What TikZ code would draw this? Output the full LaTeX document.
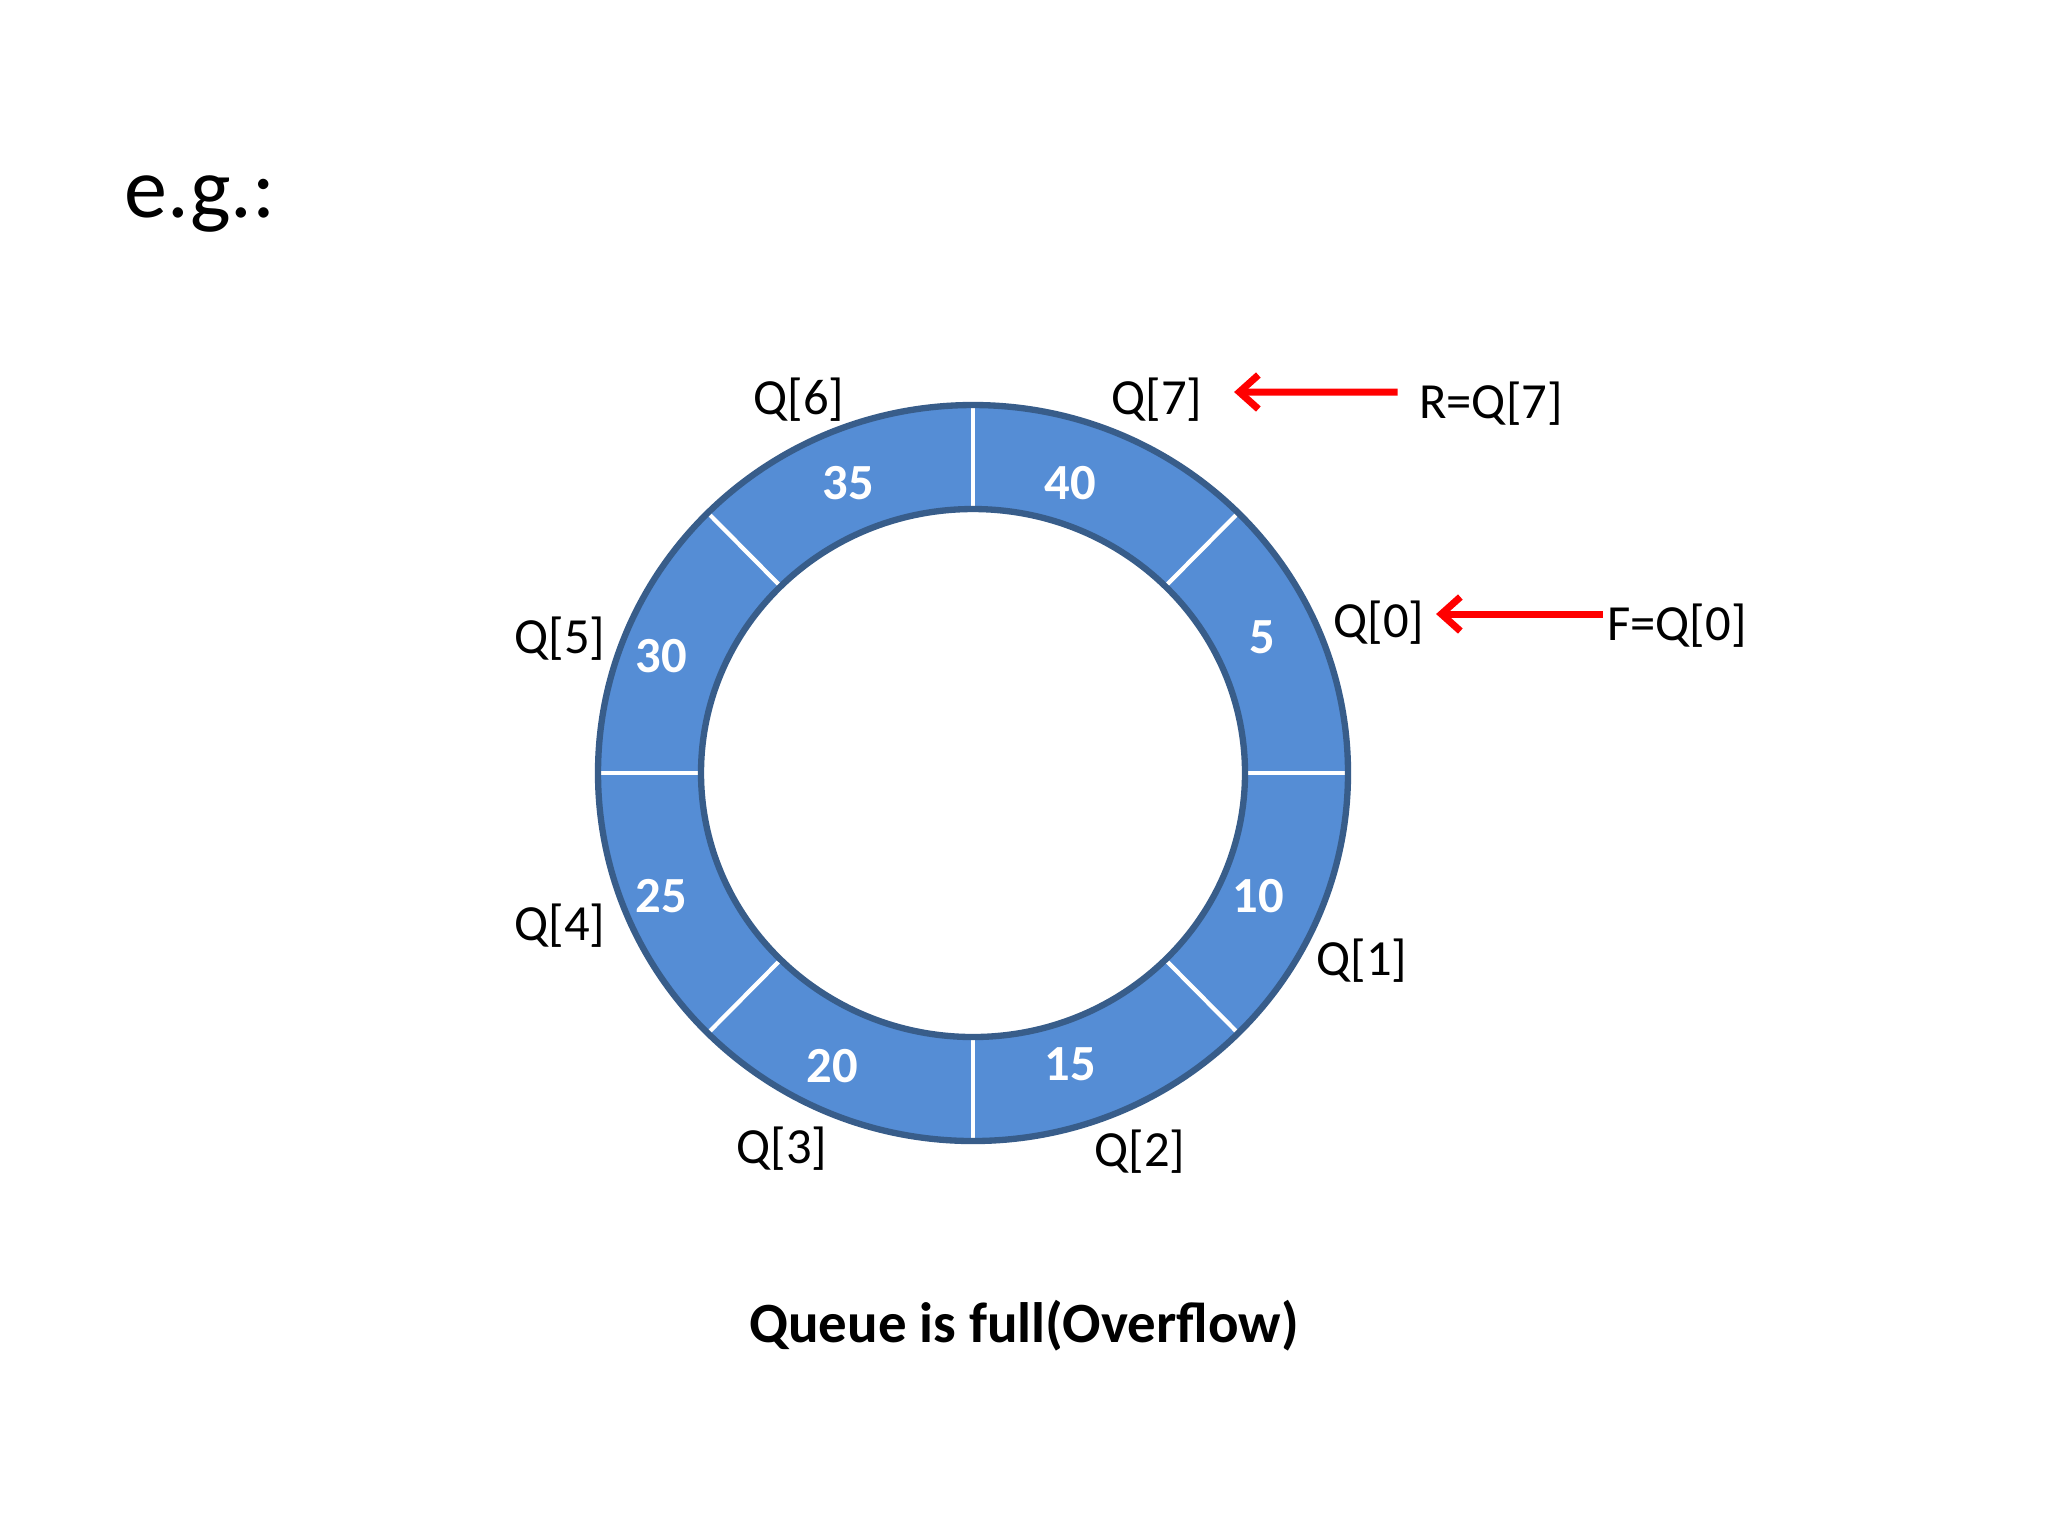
\documentclass[tikz,border=0pt]{standalone}
\usepackage{fontspec}
\setmainfont{Carlito}
\usepackage{xcolor}
\usepackage{tikz}
\usetikzlibrary{arrows.meta,calc}
\definecolor{ringfill}{RGB}{85,141,213}
\definecolor{ringline}{RGB}{56,93,138}

\begin{document}
\begin{tikzpicture}[
x=0.1mm, y=-0.1mm,
cell/.style={text=white, font=\fontsize{14.4}{17}\selectfont\bfseries, inner sep=0},
idx/.style={font=\fontsize{14.4}{17}\selectfont, inner sep=0},
ptr/.style={-{Straight Barb[length=1.9mm,width=3.4mm]}, red, line width=2pt},
sep/.style={white, line width=1.2pt}
]
\useasboundingbox[fill=white] (0,0) rectangle (2048,1536);
\coordinate (c) at (973,773);

% ring of eight cells
\fill[ringfill, even odd rule] (c) ellipse[x radius=37.5mm, y radius=36.8mm]
  (c) ellipse[x radius=27.2mm, y radius=26.4mm];
\foreach \a in {0,45,...,315}
  \draw[sep] ($(c)+(\a:27.2mm and 26.4mm)$) -- ($(c)+(\a:37.5mm and 36.8mm)$);
\draw[ringline, line width=1.8pt] (c) ellipse[x radius=37.5mm, y radius=36.8mm]
  (c) ellipse[x radius=27.2mm, y radius=26.4mm];

\node[cell] (v0) at (1262,637) {5};
\node[cell] (v1) at (1258,896) {10};
\node[cell] (v2) at (1070,1064) {15};
\node[cell] (v3) at (832,1066) {20};
\node[cell] (v4) at (661,896) {25};
\node[cell] (v5) at (661,656) {30};
\node[cell] (v6) at (848,483) {35};
\node[cell] (v7) at (1070,483) {40};

% indices
\node[idx] (q0) at (1379,623) {Q[0]};
\node[idx] (q1) at (1362,961) {Q[1]};
\node[idx] (q2) at (1140,1152) {Q[2]};
\node[idx] (q3) at (782,1149) {Q[3]};
\node[idx] (q4) at (560,926) {Q[4]};
\node[idx] (q5) at (560,639) {Q[5]};
\node[idx] (q6) at (799,400) {Q[6]};
\node[idx] (q7) at (1157,400) {Q[7]};

% front and rear
\node[idx] (rear) at (1491,404) {R=Q[7]};
\node[idx] (front) at (1677,626) {F=Q[0]};
\draw[ptr] ([xshift=-2.1mm,yshift=1.2mm]rear.west) -- ([xshift=3.1mm,yshift=0.8mm]q7.east);
\draw[ptr] ([xshift=-0.4mm,yshift=1.2mm]front.west) -- ([xshift=1.1mm,yshift=0.9mm]q0.east);

\node[font=\fontsize{24.5}{29}\selectfont, anchor=west, inner sep=0] (eg) at (124,204) {e.g.:};
\node[font=\fontsize{16.2}{19}\selectfont\bfseries, inner sep=0] (caption) at (1024,1326) {Queue is full(Overflow)};
\end{tikzpicture}
\end{document}
